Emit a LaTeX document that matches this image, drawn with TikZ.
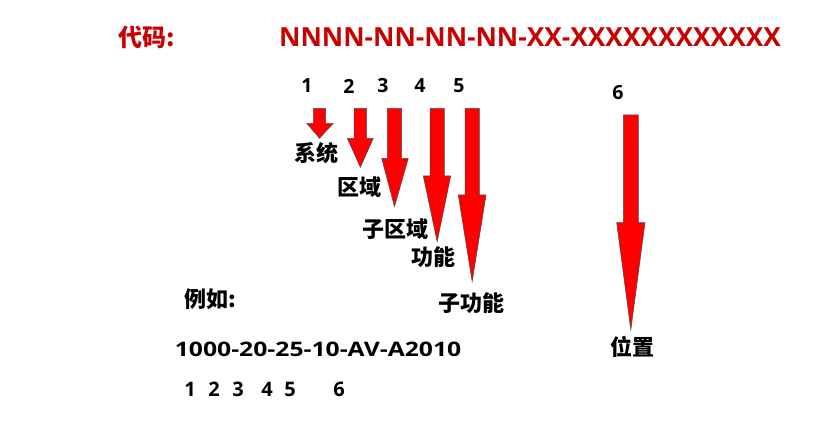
\documentclass[tikz,border=0pt]{standalone}
\usepackage{fontspec}
\setmainfont{Open Sans}
\newfontfamily\cjk{Noto Sans CJK SC}
\definecolor{darkred}{HTML}{C80000}
\definecolor{arrowred}{HTML}{FF0000}
\newcommand\blockarrow[7]{%
  \path[blockarr] (#1,#3) -- (#2,#3) -- (#2,#4) -- (#6,#4) -- ({(#1+#2)/2},#7) -- (#5,#4) -- (#1,#4) -- cycle;}
\tikzset{
  blockarr/.style={fill=arrowred, draw=black!70, line width=0.5pt, line join=miter},
  num/.style={font=\bfseries\fontsize{19.5}{21}\selectfont, inner sep=0pt},
  bnum/.style={font=\bfseries\fontsize{20}{22}\selectfont, inner sep=0pt},
  lbl/.style={font=\cjk\bfseries\fontsize{22}{24}\selectfont, inner sep=0pt},
}
\begin{document}
\begin{tikzpicture}[x=1pt,y=-1pt]
\useasboundingbox (0,0) rectangle (827,438);
% title
\node[inner sep=0pt, text=darkred, font=\cjk\bfseries\fontsize{24}{26}\selectfont] (dm) at (147,37) {代码:};
\node[inner sep=0pt, text=darkred, font=\bfseries\fontsize{26.3}{28}\selectfont] (code) at (530,37) {NNNN-NN-NN-NN-XX-XXXXXXXXXXXX};
% numbers
\node[num] (n1) at (307,86) {1};
\node[num] (n2) at (349,86) {2};
\node[num] (n3) at (383,86) {3};
\node[num] (n4) at (420,86) {4};
\node[num] (n5) at (459,86) {5};
\node[num] (n6) at (618,93) {6};
% arrows
\blockarrow{313.3}{325.7}{108.3}{123.3}{306.7}{333.3}{138.3}
\blockarrow{354}{366.7}{108.3}{138.3}{347.3}{373.3}{167.3}
\blockarrow{387.3}{401.7}{108.3}{158.3}{381.7}{408.3}{206.7}
\blockarrow{430}{444.3}{108.3}{176}{423.3}{450.7}{241.7}
\blockarrow{465}{479.3}{108.3}{195}{458.3}{486}{281.7}
\blockarrow{623.3}{638.3}{115}{222.7}{616.7}{645}{330}
% labels
\node[lbl] (l1) at (316,153) {系统};
\node[lbl] (l2) at (359,187) {区域};
\node[lbl] (l3) at (395,229) {子区域};
\node[lbl] (l4) at (433,257) {功能};
\node[lbl] (l5) at (471,303) {子功能};
\node[lbl] (l6) at (632,347) {位置};
% example
\node[lbl] (eg) at (210,299) {例如:};
\node[inner sep=0pt, font=\bfseries\fontsize{20}{22}\selectfont] (ex) at (318,349) {\scalebox{1.235}[1]{1000-20-25-10-AV-A2010}};
\node[bnum] (e1) at (190,389) {1};
\node[bnum] (e2) at (214,389) {2};
\node[bnum] (e3) at (238,389) {3};
\node[bnum] (e4) at (267,389) {4};
\node[bnum] (e5) at (290,389) {5};
\node[bnum] (e6) at (339,389) {6};
\end{tikzpicture}
\end{document}
